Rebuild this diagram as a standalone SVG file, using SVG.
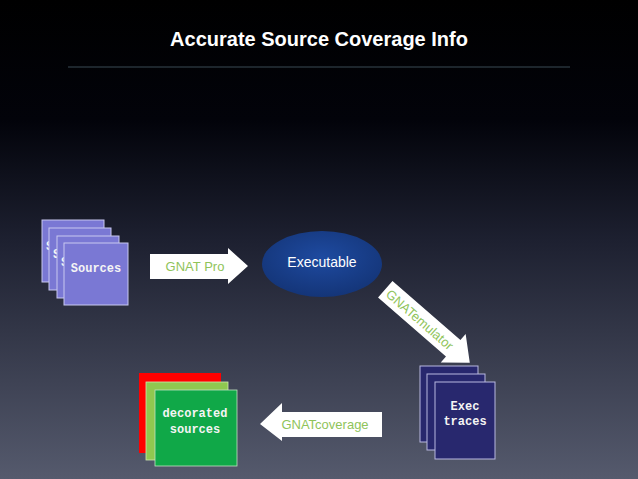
<svg xmlns="http://www.w3.org/2000/svg" width="638" height="479" viewBox="0 0 638 479">
<defs>
<linearGradient id="bg" x1="0" y1="0" x2="0" y2="1">
<stop offset="0" stop-color="#000"/><stop offset="0.25" stop-color="#02030a"/><stop offset="0.5" stop-color="#1d2030"/><stop offset="1" stop-color="#555a6d"/>
</linearGradient>
<radialGradient id="ell" cx="0.5" cy="0.4" r="0.6"><stop offset="0" stop-color="#1e4aa0"/><stop offset="1" stop-color="#143578"/></radialGradient>
<style>
.src{fill:#7a78d4;stroke:#c8c8f0;stroke-width:1}
.tr{fill:#28286e;stroke:#b8b8e0;stroke-width:1}
.mono{font-family:"Liberation Mono",monospace;font-weight:bold;fill:#f4f4f4;font-size:12px}
.lab{font-family:"Liberation Sans",Arial,sans-serif;fill:#8fc45a;font-size:13px}
.ar{fill:#fff}
</style>
</defs>
<rect width="638" height="479" fill="url(#bg)"/>
<text x="319" y="46" text-anchor="middle" font-family="Liberation Sans,Arial,sans-serif" font-weight="bold" font-size="20" fill="#fff">Accurate Source Coverage Info</text>
<line x1="68" y1="67" x2="570" y2="67" stroke="#3a4a55" stroke-width="1"/>
<g id="sources">
<rect class="src" x="42" y="220" width="62" height="62"/><text class="mono" x="46" y="250">S</text>
<rect class="src" x="49" y="228" width="62" height="62"/><text class="mono" x="53" y="258">S</text>
<rect class="src" x="57" y="236" width="62" height="62"/><text class="mono" x="61" y="266">S</text>
<rect class="src" x="64" y="243" width="64" height="62"/><text class="mono" x="96" y="272" text-anchor="middle">Sources</text>
</g>
<g id="executable">
<ellipse cx="322" cy="264" rx="60" ry="33" fill="url(#ell)"/>
<text x="322" y="267" text-anchor="middle" font-family="Liberation Sans,Arial,sans-serif" font-size="14" fill="#fff">Executable</text>
</g>
<g id="exec-traces">
<rect class="tr" x="420" y="366" width="58" height="76"/>
<rect class="tr" x="427" y="374" width="58" height="76"/>
<rect class="tr" x="435" y="382" width="60" height="77"/>
<text class="mono" x="465" y="410" text-anchor="middle">Exec</text>
<text class="mono" x="465" y="425" text-anchor="middle">traces</text>
</g>
<g id="decorated-sources">
<rect x="139" y="373" width="82" height="80" fill="#f00"/>
<rect x="146" y="382" width="82" height="78" fill="#8fc850" stroke="#d0e8b0" stroke-width="0.8"/>
<rect x="155" y="390" width="82" height="76" fill="#10a848" stroke="#c0e0c0" stroke-width="0.8"/>
<text class="mono" x="195" y="417" text-anchor="middle">decorated</text>
<text class="mono" x="195" y="433" text-anchor="middle">sources</text>
</g>
<g id="connectors">
<polygon class="ar" points="150,254 228,254 228,248 248,266 228,284 228,279 150,279"/>
<text class="lab" x="195" y="271" text-anchor="middle">GNAT Pro</text>
<g transform="translate(423,322) rotate(41)">
<polygon class="ar" points="-50,-11 40,-11 40,-19 62,0 40,19 40,11 -50,11"/>
<text class="lab" x="-4" y="5" text-anchor="middle">GNATemulator</text>
</g>
<polygon class="ar" points="382,412 282,412 282,403 260,424 282,441 282,437 382,437"/>
<text class="lab" x="325" y="429" text-anchor="middle">GNATcoverage</text>
</g>
</svg>
